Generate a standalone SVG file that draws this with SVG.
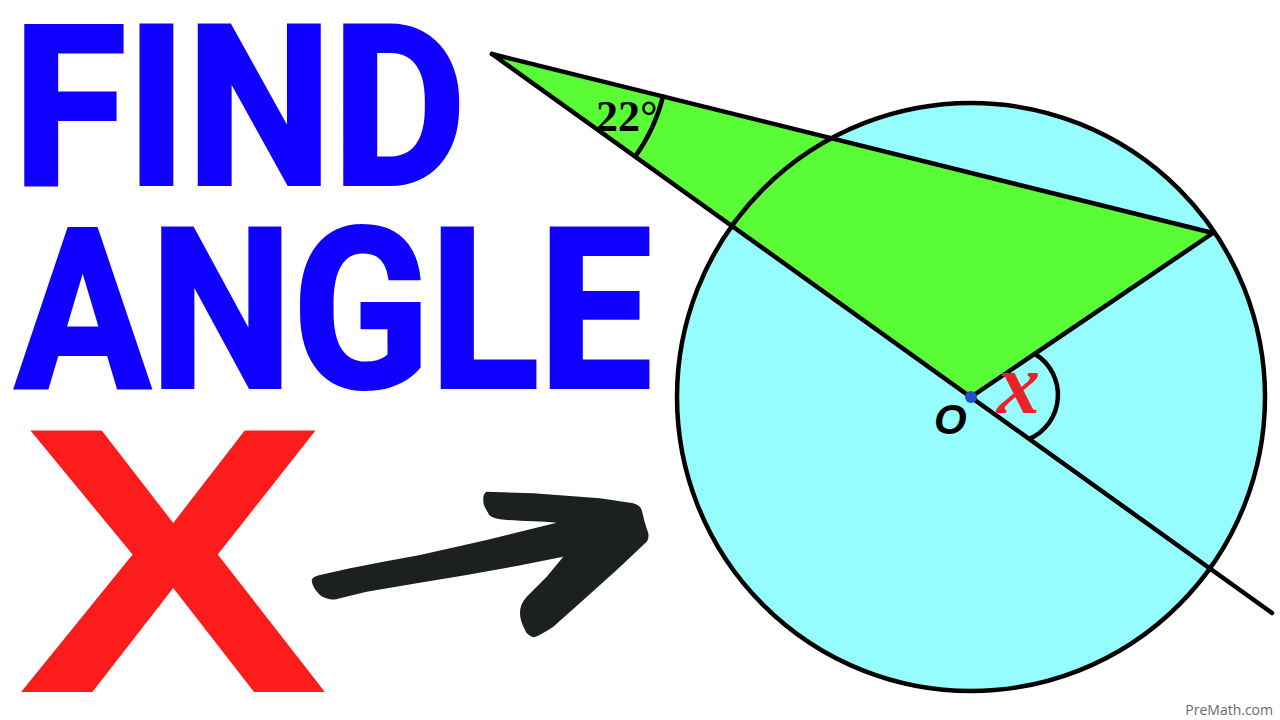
<svg xmlns="http://www.w3.org/2000/svg" width="1280" height="720" viewBox="0 0 1280 720">
<style>
.title{font-family:Roboto,"Liberation Sans",sans-serif;font-weight:bold;fill:#1000ff;stroke:#1000ff;stroke-width:4;stroke-linejoin:miter}
.ln{stroke:#000;stroke-width:4.5;fill:none;stroke-linecap:round;stroke-linejoin:round}
.arc{stroke:#000;stroke-width:4.5;fill:none}
</style>
<rect width="1280" height="720" fill="#ffffff"/>
<g id="title-find"><text class="title" x="13" y="184" font-size="223" textLength="453" lengthAdjust="spacingAndGlyphs">FIND</text></g>
<g id="title-angle"><text class="title" x="15" y="387" font-size="223" textLength="637" lengthAdjust="spacingAndGlyphs">ANGLE</text></g>
<g id="title-x"><text x="17" y="692" font-family="'Liberation Sans',Arial,sans-serif" font-weight="bold" font-size="380" fill="#fc1c1c" textLength="312" lengthAdjust="spacingAndGlyphs">X</text></g>
<g id="arrow">
<path fill="#1d211e" d="M311.7,580 C313,577 316,576 320,575 L350,568.3 L383.3,561.7 L420,555 L450,548.3 L486.7,540 L520,531.7 L556.7,522.7 C540,521 515,521 500,519.3 C493,518 489,516 488.3,513.3 C485,508 483,504 483.3,500 C483,496 484,493 486.7,491.7 L533.3,493.3 L600,498.3 L633.3,503.3 C638,505 641,507 641.7,510 L645,523.3 L648.3,533.3 C649,537 648,540 646.7,541.7 L616.7,570 L583.3,600 L553.3,626.7 C545,632 539,636 533.3,637.3 C529,636 526,633 525,630 C522,624 520,619 520,613.3 C520,606 523,601 526.7,596.7 L546.7,576.7 L563.3,556.7 L516.7,566 L466.7,575 L416.7,583.3 L366.7,591.7 L340,598.3 C336,599.5 333,600 330,599.3 C326,598.5 322,597 320,595 C316,591 312,586 311.7,580 Z"/>
</g>
<g id="circle-fill"><circle cx="971" cy="397" r="294" fill="#95fdfd"/></g>
<g id="triangle"><polygon points="492,54 1213,233 971,397" fill="#5afc35"/></g>
<g id="circle-outline"><circle cx="971" cy="397" r="294" fill="none" stroke="#000" stroke-width="4.5"/></g>
<g id="connectors">
<line class="ln" x1="492" y1="54" x2="1213" y2="233"/>
<line class="ln" x1="492" y1="54" x2="1272" y2="613"/>
<line class="ln" x1="971" y1="397" x2="1213" y2="233"/>
<path class="arc" d="M663.5,94.5 A176,176 0 0 1 634.5,157.5"/>
<path class="arc" d="M1035,354 A48,48 0 0 1 1029,439"/>
</g>
<g id="point-o"><circle cx="971" cy="397" r="6" fill="#1f4fcf"/></g>
<g id="labels">
<text x="596" y="131" font-family="'Liberation Serif','DejaVu Serif',serif" font-weight="bold" font-size="44" fill="#000">22°</text>
<text x="997" y="413" font-family="'Liberation Serif','DejaVu Serif',serif" font-weight="bold" font-style="italic" font-size="86" fill="#f0202a">x</text>
<text x="934" y="434" font-family="'Liberation Sans',Arial,sans-serif" font-weight="bold" font-style="italic" font-size="42" fill="#000">O</text>
<text x="1273" y="715" text-anchor="end" font-family="'Open Sans','Liberation Sans',sans-serif" font-size="14" fill="#6a6a6a">PreMath.com</text>
</g>
</svg>
